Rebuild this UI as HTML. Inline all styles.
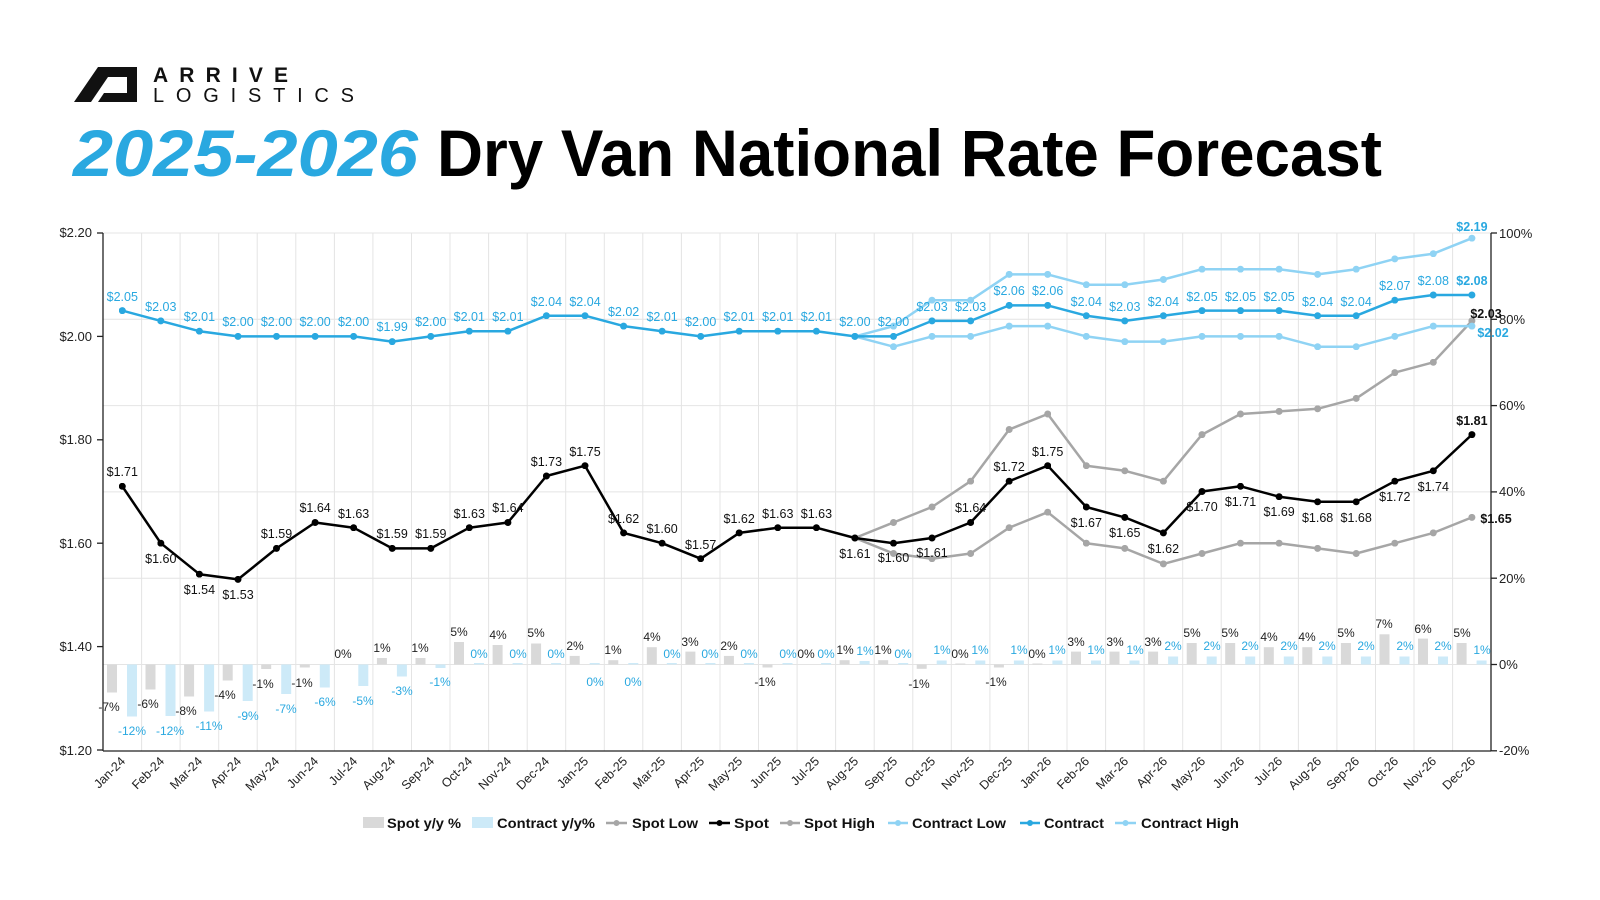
<!DOCTYPE html>
<html><head><meta charset="utf-8"><style>
html,body{margin:0;padding:0;background:#fff;}
svg{display:block;font-family:"Liberation Sans",sans-serif;}
</style></head><body>
<svg width="1600" height="900" viewBox="0 0 1600 900" xmlns="http://www.w3.org/2000/svg">
<defs>
<marker id="mk" viewBox="0 0 10 10" refX="5" refY="5" markerWidth="7" markerHeight="7" markerUnits="userSpaceOnUse"><circle cx="5" cy="5" r="5" fill="#000"/></marker>
<marker id="mc" viewBox="0 0 10 10" refX="5" refY="5" markerWidth="7" markerHeight="7" markerUnits="userSpaceOnUse"><circle cx="5" cy="5" r="5" fill="#29a8e0"/></marker>
<marker id="ml" viewBox="0 0 10 10" refX="5" refY="5" markerWidth="7" markerHeight="7" markerUnits="userSpaceOnUse"><circle cx="5" cy="5" r="5" fill="#8fd3f4"/></marker>
<marker id="mg" viewBox="0 0 10 10" refX="5" refY="5" markerWidth="7" markerHeight="7" markerUnits="userSpaceOnUse"><circle cx="5" cy="5" r="5" fill="#a6a6a6"/></marker>
</defs>

<!-- logo -->
<polygon points="74,102 98,67 137,67 137,102 127,102 127,77 108,77 91,102" fill="#111"/>
<polygon points="104,93 127,93 127,102 98,102" fill="#111"/>
<text x="153" y="82" font-size="21" font-weight="bold" textLength="135" lengthAdjust="spacing" fill="#111">ARRIVE</text>
<text x="153" y="102" font-size="20" textLength="201" lengthAdjust="spacing" fill="#111">LOGISTICS</text>

<!-- title -->
<text x="73" y="176" font-size="66" font-weight="bold" font-style="italic" fill="#29a8e0" textLength="345" lengthAdjust="spacingAndGlyphs">2025-2026</text>
<text x="437" y="176" font-size="66" font-weight="bold" fill="#000" textLength="945" lengthAdjust="spacingAndGlyphs">Dry Van National Rate Forecast</text>

<!-- gridlines -->
<g stroke="#e4e4e4" stroke-width="1">
<line x1="103" y1="233" x2="1491" y2="233"/><line x1="103" y1="319.3" x2="1491" y2="319.3"/><line x1="103" y1="405.6" x2="1491" y2="405.6"/><line x1="103" y1="491.9" x2="1491" y2="491.9"/><line x1="103" y1="578.2" x2="1491" y2="578.2"/><line x1="103" y1="664.5" x2="1491" y2="664.5"/>
<line x1="141.6" y1="233" x2="141.6" y2="751"/><line x1="180.1" y1="233" x2="180.1" y2="751"/><line x1="218.7" y1="233" x2="218.7" y2="751"/><line x1="257.2" y1="233" x2="257.2" y2="751"/><line x1="295.8" y1="233" x2="295.8" y2="751"/><line x1="334.4" y1="233" x2="334.4" y2="751"/><line x1="372.9" y1="233" x2="372.9" y2="751"/><line x1="411.5" y1="233" x2="411.5" y2="751"/><line x1="450" y1="233" x2="450" y2="751"/><line x1="488.6" y1="233" x2="488.6" y2="751"/><line x1="527.2" y1="233" x2="527.2" y2="751"/><line x1="565.7" y1="233" x2="565.7" y2="751"/><line x1="604.3" y1="233" x2="604.3" y2="751"/><line x1="642.8" y1="233" x2="642.8" y2="751"/><line x1="681.4" y1="233" x2="681.4" y2="751"/><line x1="720" y1="233" x2="720" y2="751"/><line x1="758.5" y1="233" x2="758.5" y2="751"/><line x1="797.1" y1="233" x2="797.1" y2="751"/><line x1="835.6" y1="233" x2="835.6" y2="751"/><line x1="874.2" y1="233" x2="874.2" y2="751"/><line x1="912.8" y1="233" x2="912.8" y2="751"/><line x1="951.3" y1="233" x2="951.3" y2="751"/><line x1="989.9" y1="233" x2="989.9" y2="751"/><line x1="1028.4" y1="233" x2="1028.4" y2="751"/><line x1="1067" y1="233" x2="1067" y2="751"/><line x1="1105.6" y1="233" x2="1105.6" y2="751"/><line x1="1144.1" y1="233" x2="1144.1" y2="751"/><line x1="1182.7" y1="233" x2="1182.7" y2="751"/><line x1="1221.2" y1="233" x2="1221.2" y2="751"/><line x1="1259.8" y1="233" x2="1259.8" y2="751"/><line x1="1298.4" y1="233" x2="1298.4" y2="751"/><line x1="1336.9" y1="233" x2="1336.9" y2="751"/><line x1="1375.5" y1="233" x2="1375.5" y2="751"/><line x1="1414" y1="233" x2="1414" y2="751"/><line x1="1452.6" y1="233" x2="1452.6" y2="751"/>
</g>

<!-- spot bars -->
<g fill="#d9d9d9">
<rect x="107" y="664.5" width="10" height="28"/><rect x="145.5" y="664.5" width="10" height="25"/><rect x="184.1" y="664.5" width="10" height="32"/><rect x="222.7" y="664.5" width="10" height="16"/><rect x="261.2" y="664.5" width="10" height="4.5"/><rect x="299.8" y="664.5" width="10" height="3"/>
<rect x="376.9" y="658" width="10" height="6.5"/><rect x="415.5" y="658" width="10" height="6.5"/><rect x="454" y="642" width="10" height="22.5"/><rect x="492.6" y="645" width="10" height="19.5"/><rect x="531.1" y="643.5" width="10" height="21"/><rect x="569.7" y="655.9" width="10" height="8.6"/><rect x="608.3" y="660.2" width="10" height="4.3"/><rect x="646.8" y="647.2" width="10" height="17.3"/><rect x="685.4" y="651.6" width="10" height="12.9"/><rect x="723.9" y="655.9" width="10" height="8.6"/><rect x="762.5" y="664.5" width="10" height="3"/>
<rect x="839.6" y="660.2" width="10" height="4.3"/><rect x="878.2" y="660.2" width="10" height="4.3"/><rect x="916.7" y="664.5" width="10" height="4.3"/><rect x="955.3" y="663.5" width="10" height="1"/><rect x="993.9" y="664.5" width="10" height="3"/><rect x="1032.4" y="663.5" width="10" height="1"/>
<rect x="1071" y="651.6" width="10" height="12.9"/><rect x="1109.5" y="651.6" width="10" height="12.9"/><rect x="1148.1" y="651.6" width="10" height="12.9"/><rect x="1186.7" y="643" width="10" height="21.5"/><rect x="1225.2" y="643" width="10" height="21.5"/><rect x="1263.8" y="647.2" width="10" height="17.3"/><rect x="1302.3" y="647.2" width="10" height="17.3"/><rect x="1340.9" y="643" width="10" height="21.5"/><rect x="1379.5" y="634.3" width="10" height="30.2"/><rect x="1418" y="638.6" width="10" height="25.9"/><rect x="1456.6" y="643" width="10" height="21.5"/>
</g>
<!-- contract bars -->
<g fill="#cdeaf8">
<rect x="127" y="664.5" width="10" height="52"/><rect x="165.5" y="664.5" width="10" height="51.5"/><rect x="204.1" y="664.5" width="10" height="47"/><rect x="242.7" y="664.5" width="10" height="36.5"/><rect x="281.2" y="664.5" width="10" height="29.5"/><rect x="319.8" y="664.5" width="10" height="23"/><rect x="358.3" y="664.5" width="10" height="21.5"/><rect x="396.9" y="664.5" width="10" height="12"/><rect x="435.5" y="664.5" width="10" height="3.5"/>
<rect x="474" y="663" width="10" height="1.5"/><rect x="512.6" y="663" width="10" height="1.5"/><rect x="551.1" y="663" width="10" height="1.5"/><rect x="589.7" y="663" width="10" height="1.5"/><rect x="628.3" y="663" width="10" height="1.5"/><rect x="666.8" y="663" width="10" height="1.5"/><rect x="705.4" y="663" width="10" height="1.5"/><rect x="743.9" y="663" width="10" height="1.5"/><rect x="782.5" y="663" width="10" height="1.5"/><rect x="821.1" y="663" width="10" height="1.5"/>
<rect x="859.6" y="661" width="10" height="3.5"/><rect x="898.2" y="663" width="10" height="1.5"/><rect x="936.7" y="660.5" width="10" height="4"/><rect x="975.3" y="660.5" width="10" height="4"/><rect x="1013.9" y="660.5" width="10" height="4"/><rect x="1052.4" y="660.5" width="10" height="4"/><rect x="1091" y="660.5" width="10" height="4"/><rect x="1129.5" y="660.5" width="10" height="4"/>
<rect x="1168.1" y="656.5" width="10" height="8"/><rect x="1206.7" y="656.5" width="10" height="8"/><rect x="1245.2" y="656.5" width="10" height="8"/><rect x="1283.8" y="656.5" width="10" height="8"/><rect x="1322.3" y="656.5" width="10" height="8"/><rect x="1360.9" y="656.5" width="10" height="8"/><rect x="1399.5" y="656.5" width="10" height="8"/><rect x="1438" y="656.5" width="10" height="8"/><rect x="1476.6" y="660.5" width="10" height="4"/>
</g>

<!-- axes -->
<g stroke="#222" stroke-width="1.3">
<line x1="103" y1="233" x2="103" y2="751"/><line x1="1491" y1="233" x2="1491" y2="751"/><line x1="103" y1="751" x2="1491" y2="751"/>
<line x1="97" y1="233" x2="103" y2="233"/><line x1="97" y1="336.4" x2="103" y2="336.4"/><line x1="97" y1="439.8" x2="103" y2="439.8"/><line x1="97" y1="543.2" x2="103" y2="543.2"/><line x1="97" y1="646.6" x2="103" y2="646.6"/><line x1="97" y1="750" x2="103" y2="750"/>
<line x1="1491" y1="233" x2="1497" y2="233"/><line x1="1491" y1="319.3" x2="1497" y2="319.3"/><line x1="1491" y1="405.6" x2="1497" y2="405.6"/><line x1="1491" y1="491.9" x2="1497" y2="491.9"/><line x1="1491" y1="578.2" x2="1497" y2="578.2"/><line x1="1491" y1="664.5" x2="1497" y2="664.5"/><line x1="1491" y1="750.8" x2="1497" y2="750.8"/>
</g>
<g font-size="13" fill="#222" text-anchor="end">
<text x="92" y="237">$2.20</text><text x="92" y="341">$2.00</text><text x="92" y="444">$1.80</text><text x="92" y="548">$1.60</text><text x="92" y="651">$1.40</text><text x="92" y="755">$1.20</text>
</g>
<g font-size="13" fill="#222">
<text x="1499" y="238">100%</text><text x="1499" y="324">80%</text><text x="1499" y="410">60%</text><text x="1499" y="496">40%</text><text x="1499" y="583">20%</text><text x="1499" y="669">0%</text><text x="1499" y="755">-20%</text>
</g>

<!-- x labels -->
<g font-size="12.5" fill="#222" text-anchor="end">
<text transform="translate(126,762) rotate(-45)">Jan-24</text><text transform="translate(165,762) rotate(-45)">Feb-24</text><text transform="translate(203,762) rotate(-45)">Mar-24</text><text transform="translate(242,762) rotate(-45)">Apr-24</text><text transform="translate(280,762) rotate(-45)">May-24</text><text transform="translate(319,762) rotate(-45)">Jun-24</text><text transform="translate(358,762) rotate(-45)">Jul-24</text><text transform="translate(396,762) rotate(-45)">Aug-24</text><text transform="translate(435,762) rotate(-45)">Sep-24</text><text transform="translate(473,762) rotate(-45)">Oct-24</text><text transform="translate(512,762) rotate(-45)">Nov-24</text><text transform="translate(550,762) rotate(-45)">Dec-24</text><text transform="translate(589,762) rotate(-45)">Jan-25</text><text transform="translate(628,762) rotate(-45)">Feb-25</text><text transform="translate(666,762) rotate(-45)">Mar-25</text><text transform="translate(705,762) rotate(-45)">Apr-25</text><text transform="translate(743,762) rotate(-45)">May-25</text><text transform="translate(782,762) rotate(-45)">Jun-25</text><text transform="translate(820,762) rotate(-45)">Jul-25</text><text transform="translate(859,762) rotate(-45)">Aug-25</text><text transform="translate(898,762) rotate(-45)">Sep-25</text><text transform="translate(936,762) rotate(-45)">Oct-25</text><text transform="translate(975,762) rotate(-45)">Nov-25</text><text transform="translate(1013,762) rotate(-45)">Dec-25</text><text transform="translate(1052,762) rotate(-45)">Jan-26</text><text transform="translate(1090,762) rotate(-45)">Feb-26</text><text transform="translate(1129,762) rotate(-45)">Mar-26</text><text transform="translate(1168,762) rotate(-45)">Apr-26</text><text transform="translate(1206,762) rotate(-45)">May-26</text><text transform="translate(1245,762) rotate(-45)">Jun-26</text><text transform="translate(1283,762) rotate(-45)">Jul-26</text><text transform="translate(1322,762) rotate(-45)">Aug-26</text><text transform="translate(1360,762) rotate(-45)">Sep-26</text><text transform="translate(1399,762) rotate(-45)">Oct-26</text><text transform="translate(1437,762) rotate(-45)">Nov-26</text><text transform="translate(1476,762) rotate(-45)">Dec-26</text>
</g>

<!-- lines -->
<g fill="none" stroke-width="2.5" stroke-linejoin="round">
<polyline stroke="#a6a6a6" marker-start="url(#mg)" marker-mid="url(#mg)" marker-end="url(#mg)" points="854.9,538 893.5,553.5 932,558.7 970.6,553.5 1009.2,527.7 1047.7,512.2 1086.3,543.2 1124.8,548.4 1163.4,563.9 1202,553.5 1240.5,543.2 1279.1,543.2 1317.6,548.4 1356.2,553.5 1394.8,543.2 1433.3,532.9 1471.9,517.4"/>
<polyline stroke="#a6a6a6" marker-start="url(#mg)" marker-mid="url(#mg)" marker-end="url(#mg)" points="854.9,538 893.5,522.5 932,507 970.6,481.2 1009.2,429.5 1047.7,414 1086.3,465.7 1124.8,470.8 1163.4,481.2 1202,434.6 1240.5,414 1279.1,411.4 1317.6,408.8 1356.2,398.4 1394.8,372.6 1433.3,362.3 1471.9,320.9"/>
<polyline stroke="#8fd3f4" marker-start="url(#ml)" marker-mid="url(#ml)" marker-end="url(#ml)" points="854.9,336.4 893.5,346.7 932,336.4 970.6,336.4 1009.2,326.1 1047.7,326.1 1086.3,336.4 1124.8,341.6 1163.4,341.6 1202,336.4 1240.5,336.4 1279.1,336.4 1317.6,346.7 1356.2,346.7 1394.8,336.4 1433.3,326.1 1471.9,326.1"/>
<polyline stroke="#8fd3f4" marker-start="url(#ml)" marker-mid="url(#ml)" marker-end="url(#ml)" points="854.9,336.4 893.5,326.1 932,300.2 970.6,300.2 1009.2,274.4 1047.7,274.4 1086.3,284.7 1124.8,284.7 1163.4,279.5 1202,269.2 1240.5,269.2 1279.1,269.2 1317.6,274.4 1356.2,269.2 1394.8,258.9 1433.3,253.7 1471.9,238.2"/>
<polyline stroke="#29a8e0" marker-start="url(#mc)" marker-mid="url(#mc)" marker-end="url(#mc)" points="122.3,310.6 160.8,320.9 199.4,331.2 238,336.4 276.5,336.4 315.1,336.4 353.6,336.4 392.2,341.6 430.8,336.4 469.3,331.2 507.9,331.2 546.4,315.7 585,315.7 623.6,326.1 662.1,331.2 700.7,336.4 739.2,331.2 777.8,331.2 816.4,331.2 854.9,336.4 893.5,336.4 932,320.9 970.6,320.9 1009.2,305.4 1047.7,305.4 1086.3,315.7 1124.8,320.9 1163.4,315.7 1202,310.6 1240.5,310.6 1279.1,310.6 1317.6,315.7 1356.2,315.7 1394.8,300.2 1433.3,295 1471.9,295"/>
<polyline stroke="#000" marker-start="url(#mk)" marker-mid="url(#mk)" marker-end="url(#mk)" points="122.3,486.3 160.8,543.2 199.4,574.2 238,579.4 276.5,548.4 315.1,522.5 353.6,527.7 392.2,548.4 430.8,548.4 469.3,527.7 507.9,522.5 546.4,476 585,465.7 623.6,532.9 662.1,543.2 700.7,558.7 739.2,532.9 777.8,527.7 816.4,527.7 854.9,538 893.5,543.2 932,538 970.6,522.5 1009.2,481.2 1047.7,465.7 1086.3,507 1124.8,517.4 1163.4,532.9 1202,491.5 1240.5,486.3 1279.1,496.7 1317.6,501.8 1356.2,501.8 1394.8,481.2 1433.3,470.8 1471.9,434.6"/>
</g>

<!-- contract price labels -->
<g font-size="12.5" fill="#29a8e0" text-anchor="middle">
<text x="122.3" y="301">$2.05</text><text x="160.8" y="311">$2.03</text><text x="199.4" y="321">$2.01</text><text x="238" y="326">$2.00</text><text x="276.5" y="326">$2.00</text><text x="315.1" y="326">$2.00</text><text x="353.6" y="326">$2.00</text><text x="392.2" y="331">$1.99</text><text x="430.8" y="326">$2.00</text><text x="469.3" y="321">$2.01</text><text x="507.9" y="321">$2.01</text><text x="546.4" y="306">$2.04</text><text x="585" y="306">$2.04</text><text x="623.6" y="316">$2.02</text><text x="662.1" y="321">$2.01</text><text x="700.7" y="326">$2.00</text><text x="739.2" y="321">$2.01</text><text x="777.8" y="321">$2.01</text><text x="816.4" y="321">$2.01</text><text x="854.9" y="326">$2.00</text><text x="893.5" y="326">$2.00</text><text x="932" y="311">$2.03</text><text x="970.6" y="311">$2.03</text><text x="1009.2" y="295">$2.06</text><text x="1047.7" y="295">$2.06</text><text x="1086.3" y="306">$2.04</text><text x="1124.8" y="311">$2.03</text><text x="1163.4" y="306">$2.04</text><text x="1202" y="301">$2.05</text><text x="1240.5" y="301">$2.05</text><text x="1279.1" y="301">$2.05</text><text x="1317.6" y="306">$2.04</text><text x="1356.2" y="306">$2.04</text><text x="1394.8" y="290">$2.07</text><text x="1433.3" y="285">$2.08</text><text x="1471.9" y="285" font-weight="bold">$2.08</text>
<text x="1471.9" y="231" font-weight="bold">$2.19</text><text x="1493" y="337" font-weight="bold">$2.02</text>
</g>
<!-- spot price labels -->
<g font-size="12.5" fill="#111" text-anchor="middle">
<text x="122.3" y="476">$1.71</text><text x="160.8" y="563">$1.60</text><text x="199.4" y="594">$1.54</text><text x="238" y="599">$1.53</text><text x="276.5" y="538">$1.59</text><text x="315.1" y="512">$1.64</text><text x="353.6" y="518">$1.63</text><text x="392.2" y="538">$1.59</text><text x="430.8" y="538">$1.59</text><text x="469.3" y="518">$1.63</text><text x="507.9" y="512">$1.64</text><text x="546.4" y="466">$1.73</text><text x="585" y="456">$1.75</text><text x="623.6" y="523">$1.62</text><text x="662.1" y="533">$1.60</text><text x="700.7" y="549">$1.57</text><text x="739.2" y="523">$1.62</text><text x="777.8" y="518">$1.63</text><text x="816.4" y="518">$1.63</text><text x="854.9" y="558">$1.61</text><text x="893.5" y="562">$1.60</text><text x="932" y="557">$1.61</text><text x="970.6" y="512">$1.64</text><text x="1009.2" y="471">$1.72</text><text x="1047.7" y="456">$1.75</text><text x="1086.3" y="527">$1.67</text><text x="1124.8" y="537">$1.65</text><text x="1163.4" y="553">$1.62</text><text x="1202" y="511">$1.70</text><text x="1240.5" y="506">$1.71</text><text x="1279.1" y="516">$1.69</text><text x="1317.6" y="522">$1.68</text><text x="1356.2" y="522">$1.68</text><text x="1394.8" y="501">$1.72</text><text x="1433.3" y="491">$1.74</text>
<g font-weight="bold"><text x="1471.9" y="425">$1.81</text><text x="1486" y="318">$2.03</text><text x="1496" y="523">$1.65</text></g>
</g>

<!-- spot % labels -->
<g font-size="12" fill="#222" text-anchor="middle">
<text x="109" y="711">-7%</text><text x="148" y="708">-6%</text><text x="186" y="715">-8%</text><text x="225" y="699">-4%</text><text x="263" y="688">-1%</text><text x="302" y="687">-1%</text><text x="343" y="658">0%</text><text x="382" y="652">1%</text><text x="420" y="652">1%</text><text x="459" y="636">5%</text><text x="498" y="639">4%</text><text x="536" y="637">5%</text><text x="575" y="650">2%</text><text x="613" y="654">1%</text><text x="652" y="641">4%</text><text x="690" y="646">3%</text><text x="729" y="650">2%</text><text x="765" y="686">-1%</text><text x="806" y="658">0%</text><text x="845" y="654">1%</text><text x="883" y="654">1%</text><text x="919" y="688">-1%</text><text x="960" y="658">0%</text><text x="996" y="686">-1%</text><text x="1037" y="658">0%</text><text x="1076" y="646">3%</text><text x="1115" y="646">3%</text><text x="1153" y="646">3%</text><text x="1192" y="637">5%</text><text x="1230" y="637">5%</text><text x="1269" y="641">4%</text><text x="1307" y="641">4%</text><text x="1346" y="637">5%</text><text x="1384" y="628">7%</text><text x="1423" y="633">6%</text><text x="1462" y="637">5%</text>
</g>
<!-- contract % labels -->
<g font-size="12" fill="#29a8e0" text-anchor="middle">
<text x="132" y="735">-12%</text><text x="170" y="735">-12%</text><text x="209" y="730">-11%</text><text x="248" y="720">-9%</text><text x="286" y="713">-7%</text><text x="325" y="706">-6%</text><text x="363" y="705">-5%</text><text x="402" y="695">-3%</text><text x="440" y="686">-1%</text>
<text x="479" y="658">0%</text><text x="518" y="658">0%</text><text x="556" y="658">0%</text><text x="595" y="686">0%</text><text x="633" y="686">0%</text><text x="672" y="658">0%</text><text x="710" y="658">0%</text><text x="749" y="658">0%</text><text x="788" y="658">0%</text><text x="826" y="658">0%</text><text x="865" y="655">1%</text><text x="903" y="658">0%</text><text x="942" y="654">1%</text><text x="980" y="654">1%</text><text x="1019" y="654">1%</text><text x="1057" y="654">1%</text><text x="1096" y="654">1%</text><text x="1135" y="654">1%</text><text x="1173" y="650">2%</text><text x="1212" y="650">2%</text><text x="1250" y="650">2%</text><text x="1289" y="650">2%</text><text x="1327" y="650">2%</text><text x="1366" y="650">2%</text><text x="1405" y="650">2%</text><text x="1443" y="650">2%</text><text x="1482" y="654">1%</text>
</g>

<!-- legend -->
<g font-size="14" font-weight="bold" fill="#111">
<rect x="363" y="817" width="21" height="11" fill="#d9d9d9"/><text x="387" y="828" textLength="74" lengthAdjust="spacingAndGlyphs">Spot y/y %</text>
<rect x="472" y="817" width="21" height="11" fill="#cdeaf8"/><text x="497" y="828" textLength="98" lengthAdjust="spacingAndGlyphs">Contract y/y%</text>
<line x1="606" y1="823" x2="627" y2="823" stroke="#a6a6a6" stroke-width="2.5"/><circle cx="616.5" cy="823" r="3" fill="#a6a6a6"/><text x="632" y="828" textLength="66" lengthAdjust="spacingAndGlyphs">Spot Low</text>
<line x1="709" y1="823" x2="730" y2="823" stroke="#000" stroke-width="2.5"/><circle cx="719.5" cy="823" r="3" fill="#000"/><text x="734" y="828" textLength="35" lengthAdjust="spacingAndGlyphs">Spot</text>
<line x1="780" y1="823" x2="800" y2="823" stroke="#a6a6a6" stroke-width="2.5"/><circle cx="790" cy="823" r="3" fill="#a6a6a6"/><text x="804" y="828" textLength="71" lengthAdjust="spacingAndGlyphs">Spot High</text>
<line x1="888" y1="823" x2="908" y2="823" stroke="#8fd3f4" stroke-width="2.5"/><circle cx="898" cy="823" r="3" fill="#8fd3f4"/><text x="912" y="828" textLength="94" lengthAdjust="spacingAndGlyphs">Contract Low</text>
<line x1="1020" y1="823" x2="1040" y2="823" stroke="#29a8e0" stroke-width="2.5"/><circle cx="1030" cy="823" r="3" fill="#29a8e0"/><text x="1044" y="828" textLength="60" lengthAdjust="spacingAndGlyphs">Contract</text>
<line x1="1115" y1="823" x2="1136" y2="823" stroke="#8fd3f4" stroke-width="2.5"/><circle cx="1125.5" cy="823" r="3" fill="#8fd3f4"/><text x="1141" y="828" textLength="98" lengthAdjust="spacingAndGlyphs">Contract High</text>
</g>
</svg>
</body></html>
